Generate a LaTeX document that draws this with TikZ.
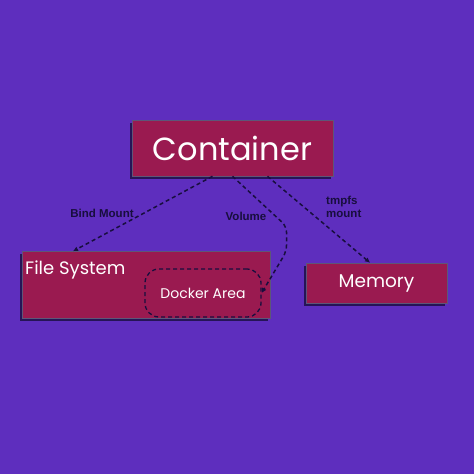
\documentclass[tikz,border=0pt]{standalone}
\usepackage{fontspec}
\setmainfont{Poppins}
\newfontfamily\labelfont{Liberation Sans}
\usetikzlibrary{shadows,arrows.meta}

\definecolor{bgpurple}{RGB}{94,46,190}
\definecolor{boxred}{RGB}{154,26,80}
\definecolor{inkdark}{RGB}{24,14,62}

\tikzset{
    box/.style={fill=boxred, draw=inkdark!70, line width=0.6pt, text=white,
        drop shadow={shadow xshift=-2pt, shadow yshift=-2.5pt, fill=inkdark, opacity=0.8}},
    link/.style={draw=inkdark, line width=1.5pt, dash pattern=on 4pt off 3pt, -{Latex[length=5pt,width=5pt]}},
    linklabel/.style={font=\labelfont\bfseries\fontsize{11.5}{13}\selectfont, text=inkdark, align=left, inner sep=0pt}
}

\begin{document}
\begin{tikzpicture}[x=1pt,y=-1pt]
    % Background
    \fill[bgpurple] (0,0) rectangle (474,474);
    \useasboundingbox (0,0) rectangle (474,474);

    % Boxes
    \node[box, minimum width=201pt, minimum height=56pt, font=\fontsize{32}{36}\selectfont] (cont) at (232.5,148) {Container};
    \node[box, minimum width=248pt, minimum height=67pt] (fs) at (146,285) {};
    \node[anchor=west, text=white, font=\fontsize{18}{20}\selectfont, inner sep=0pt] (fslabel) at (25,270) {File System};
    \node[box, minimum width=141pt, minimum height=40pt, font=\fontsize{18.5}{21}\selectfont] (mem) at (376.5,283) {Memory};

    % Docker area inside the file system
    \node[draw=inkdark, line width=1.3pt, dash pattern=on 4pt off 3pt, rounded corners=14pt,
        minimum width=116pt, minimum height=48pt, text=white, font=\fontsize{14}{16}\selectfont] (dock) at (203,293) {Docker Area};

    % Mounts
    \draw[link] ([xshift=-20pt]cont.south) -- (fs.north west -| 73,0);
    \draw[link, rounded corners=6pt] (cont.south) -- ++(54,50) -- ++(0,25) -- (dock.east);
    \draw[link] ([xshift=35pt]cont.south) -- (mem.north -| 370,0);

    % Labels
    \node[linklabel] (bind) at (102,213) {Bind Mount};
    \node[linklabel] (vol) at (246,216) {Volume};
    \node[linklabel, anchor=west] (tmpfs) at (326,207) {tmpfs\\mount};
\end{tikzpicture}
\end{document}
